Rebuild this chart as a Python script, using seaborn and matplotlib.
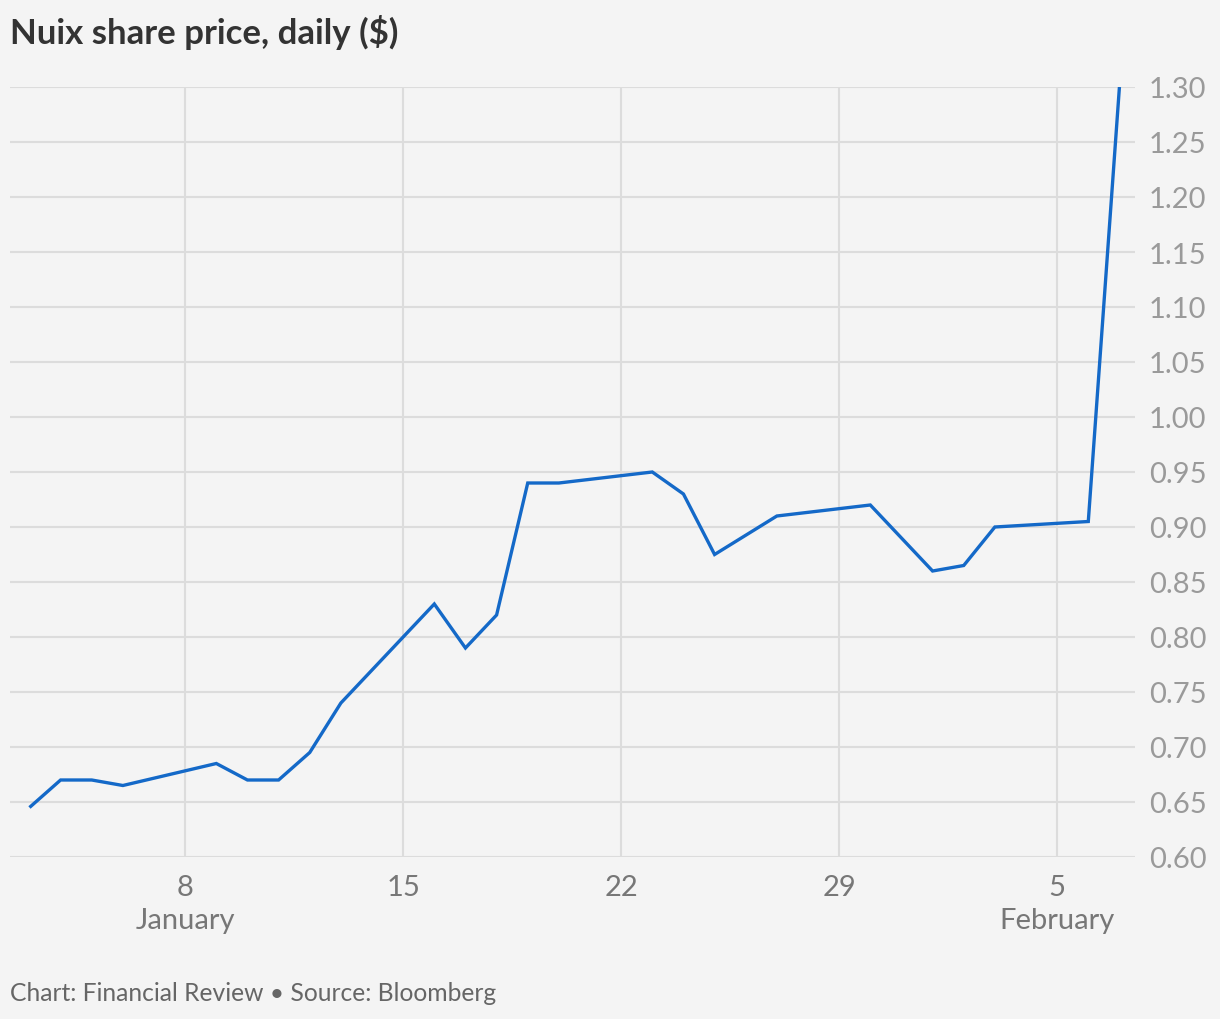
import matplotlib
matplotlib.use("Agg")
import matplotlib.pyplot as plt
import seaborn as sns
import pandas as pd
import numpy as np

dates = ["2023-01-03", "2023-01-04", "2023-01-05", "2023-01-06", "2023-01-09",
         "2023-01-10", "2023-01-11", "2023-01-12", "2023-01-13", "2023-01-16",
         "2023-01-17", "2023-01-18", "2023-01-19", "2023-01-20", "2023-01-23",
         "2023-01-24", "2023-01-25", "2023-01-27", "2023-01-30", "2023-02-01",
         "2023-02-02", "2023-02-03", "2023-02-06", "2023-02-07"]
prices = [0.645, 0.67, 0.67, 0.665, 0.685,
          0.67, 0.67, 0.695, 0.74, 0.83,
          0.79, 0.82, 0.94, 0.94, 0.95,
          0.93, 0.875, 0.91, 0.92, 0.86,
          0.865, 0.90, 0.905, 1.30]
x_tick_dates = ["2023-01-08", "2023-01-15", "2023-01-22", "2023-01-29", "2023-02-05"]
x_tick_labels = ["8\nJanuary", "15", "22", "29", "5\nFebruary"]
y_ticks = [0.60, 0.65, 0.70, 0.75, 0.80, 0.85, 0.90, 0.95, 1.00, 1.05, 1.10, 1.15, 1.20, 1.25, 1.30]

df = pd.DataFrame({"date": pd.to_datetime(dates), "price": prices})

sns.set_theme(style="white")
plt.rcParams["font.family"] = ["Lato", "DejaVu Sans"]

bg = "#f4f4f4"
fig = plt.figure(figsize=(12.2, 10.2), dpi=100, facecolor=bg)
ax = fig.add_axes([10 / 1220, 1 - 858 / 1020, 1125 / 1220, 770 / 1020], facecolor=bg)

sns.lineplot(data=df, x="date", y="price", ax=ax, color="#1469c8", linewidth=2.4,
             solid_capstyle="butt", solid_joinstyle="miter", zorder=3)

ax.set_ylim(0.60, 1.30)
ax.set_xlim(pd.Timestamp("2023-01-02 09:00"), pd.Timestamp("2023-02-07 12:00"))

ax.set_yticks(y_ticks)
ax.set_yticklabels([f"{v:.2f}" for v in y_ticks])
ax.yaxis.tick_right()
ax.set_xticks(pd.to_datetime(x_tick_dates))
ax.set_xticklabels(x_tick_labels)

ax.tick_params(axis="y", length=0, pad=10, labelsize=21, labelcolor="#9a9a9a")
ax.tick_params(axis="x", length=0, pad=12, labelsize=21, labelcolor="#777777")
for lab in ax.get_xticklabels():
    lab.set_linespacing(1.35)

ax.grid(True, color="#dcdcdc", linewidth=1.5, zorder=0)
for s in ax.spines.values():
    s.set_visible(False)
ax.set_xlabel("")
ax.set_ylabel("")

fig.text(10 / 1220, 1 - 33 / 1020, "Nuix share price, daily ($)", fontsize=25,
         fontweight="bold", color="#333333", va="center", ha="left")
fig.text(10 / 1220, 1 - 994 / 1020, "Chart: Financial Review \u2022 Source: Bloomberg",
         fontsize=17.7, color="#666666", va="center", ha="left")

fig.savefig("out.png", dpi=100, facecolor=bg)
